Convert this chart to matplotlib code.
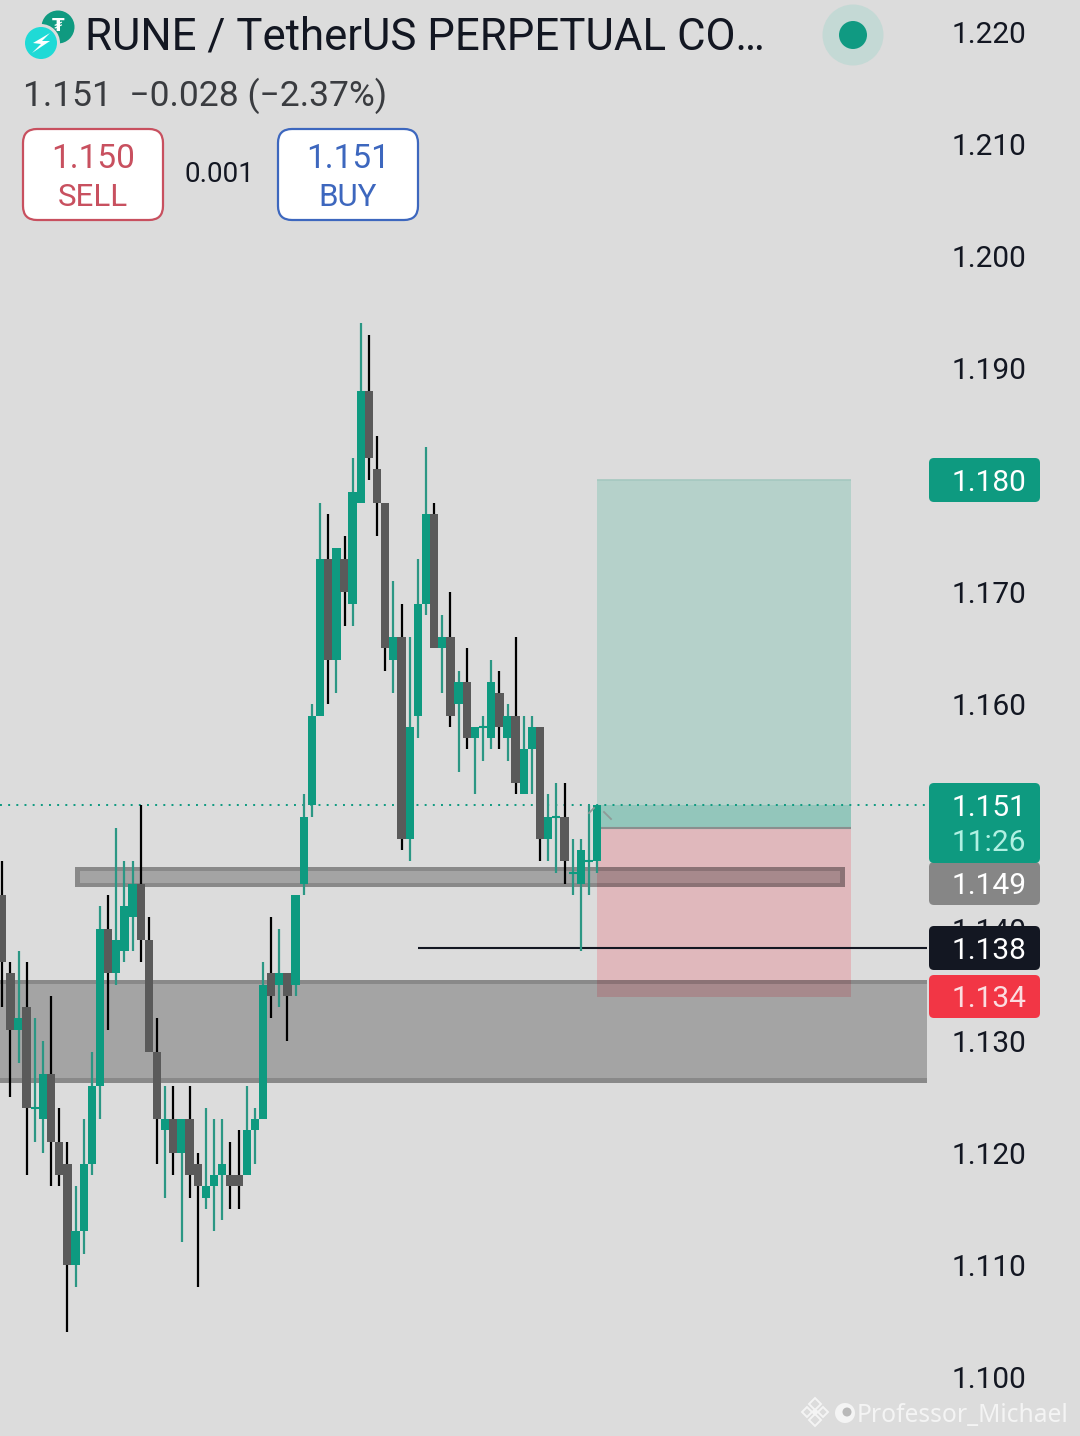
import matplotlib
matplotlib.use("Agg")
import matplotlib.pyplot as plt
from matplotlib.patches import Rectangle, FancyBboxPatch, Circle, Polygon

# ---------- data ----------
tops = [1.143,1.136,1.132,1.133,1.124,1.127,1.127,1.121,1.119,1.113,1.119,1.126,1.140,1.140,1.139,1.142,1.144,1.144,1.139,1.129,
        1.123,1.123,1.123,1.123,1.119,1.117,1.118,1.119,1.118,1.118,1.122,1.123,1.135,1.136,1.136,1.136,1.143,1.150,1.159,1.173,
        1.173,1.174,1.173,1.179,1.188,1.188,1.181,1.178,1.166,1.166,1.158,1.169,1.177,1.177,1.166,1.166,1.162,1.162,1.158,1.158,
        1.162,1.161,1.159,1.159,1.156,1.158,1.158,1.150,1.150,1.150,1.145,1.147,1.146,1.151]
bottoms = [1.137,1.131,1.131,1.124,1.124,1.123,1.121,1.118,1.110,1.110,1.113,1.119,1.126,1.136,1.136,1.138,1.141,1.139,1.129,1.123,
           1.122,1.120,1.120,1.118,1.117,1.116,1.117,1.118,1.117,1.117,1.118,1.122,1.123,1.134,1.135,1.134,1.135,1.144,1.151,1.159,
           1.164,1.164,1.170,1.169,1.178,1.182,1.178,1.165,1.164,1.148,1.148,1.159,1.169,1.165,1.165,1.159,1.160,1.157,1.157,1.158,
           1.157,1.158,1.157,1.153,1.152,1.156,1.148,1.148,1.150,1.146,1.145,1.144,1.146,1.146]
highs = [1.146,1.137,1.138,1.137,1.132,1.130,1.134,1.124,1.121,1.117,1.123,1.129,1.142,1.143,1.149,1.146,1.146,1.151,1.141,1.132,
         1.126,1.126,1.123,1.126,1.120,1.124,1.123,1.123,1.121,1.122,1.126,1.124,1.137,1.141,1.140,1.136,1.143,1.152,1.160,1.178,
         1.177,1.174,1.175,1.182,1.194,1.193,1.184,1.178,1.171,1.169,1.166,1.173,1.183,1.178,1.168,1.170,1.163,1.165,1.158,1.159,
         1.164,1.163,1.160,1.166,1.159,1.159,1.158,1.152,1.153,1.153,1.148,1.148,1.151,1.151]
lows = [1.133,1.125,1.128,1.118,1.121,1.120,1.117,1.117,1.104,1.108,1.111,1.118,1.123,1.131,1.135,1.137,1.138,1.137,1.129,1.119,
        1.116,1.118,1.112,1.116,1.108,1.115,1.113,1.114,1.115,1.115,1.118,1.119,1.123,1.132,1.133,1.130,1.134,1.143,1.150,1.159,
        1.160,1.161,1.167,1.167,1.178,1.180,1.175,1.163,1.161,1.147,1.146,1.157,1.168,1.165,1.161,1.158,1.154,1.156,1.152,1.155,
        1.156,1.156,1.155,1.152,1.152,1.152,1.146,1.146,1.145,1.144,1.143,1.138,1.143,1.145]
is_up = [0,0,1,0,1,1,0,0,0,1,1,1,1,0,1,1,1,0,0,0,
         1,0,1,0,0,1,1,1,0,0,1,1,1,0,1,0,1,1,1,1,
         0,1,0,1,1,0,0,0,1,0,1,1,1,0,1,0,1,0,1,1,
         1,0,1,0,1,1,0,1,1,0,1,1,1,1]

price_ticks = [1.100,1.110,1.120,1.130,1.140,1.150,1.160,1.170,1.180,1.190,1.200,1.210,1.220]
last_price = 1.1510
crosshair_price = 1.1383
target_price = 1.180
entry_price = 1.149
stop_price = 1.1339
upper_zone = (1.1455, 1.14514, 1.14407, 1.14372)
lower_zone = (1.13546, 1.13509, 1.12672, 1.12624)
title = "RUNE / TetherUS PERPETUAL CO…"
quote = "1.151  −0.028 (−2.37%)"

# ---------- style ----------
BG = "#DCDCDC"
GREEN = "#0E9A80"
GREEN_WICK = "#2B9784"
DARK = "#5A5A5A"
plt.rcParams["font.family"] = ["Roboto", "DejaVu Sans"]

W, H = 1080, 1436
fig = plt.figure(figsize=(W / 100, H / 100), dpi=100, facecolor=BG)
PX_X = 8.15
PX_Y = 11208.0
ax = fig.add_axes([0, 0, 927 / W, 1])
ax.set_facecolor(BG)
ax.set_xlim(-2.2 / PX_X, 924.8 / PX_X)
ax.set_ylim(1.100 - 59 / PX_Y, 1.220 + 32 / PX_Y)
for s in ax.spines.values():
    s.set_visible(False)
ax.set_xticks([])
ax.yaxis.tick_right()
ax.set_yticks(price_ticks)
ax.set_yticklabels([f"{p:.3f}" for p in price_ticks], fontsize=21.5, color="#131722")
ax.tick_params(axis="y", length=0, pad=17.4)

def box(x0, x1, y0, y1, color, alpha=1.0, z=1):
    ax.add_patch(Rectangle((x0, y0), x1 - x0, y1 - y0, facecolor=color, alpha=alpha,
                           edgecolor="none", linewidth=0, zorder=z))

# risk / reward tool
tx0, tx1 = 73.0, 104.15
box(tx0, tx1, entry_price, target_price, "#B5D1CA", z=1)
box(tx0, tx1, stop_price, entry_price, "#E0B8BC", z=1)
box(tx0, tx1, entry_price, last_price, "#0E9A80", alpha=0.2, z=1.1)
ax.hlines(entry_price, tx0, tx1, color="#8A8F8E", lw=1.5, zorder=1.2)
ax.hlines(target_price, tx0, tx1, color="#A5C8C0", lw=1.2, zorder=1.2)

# zones
xl = ax.get_xlim()
ux0, ux1, uxi = 8.93, 103.4, 0.6
o_t, i_t, i_b, o_b = upper_zone
box(ux0 + uxi, ux1 - uxi, i_b, i_t, "black", 0.25, z=2)
box(ux0, ux1, i_t, o_t, "black", 0.375, z=2)
box(ux0, ux1, o_b, i_b, "black", 0.375, z=2)
box(ux0, ux0 + uxi, i_b, i_t, "black", 0.375, z=2)
box(ux1 - uxi, ux1, i_b, i_t, "black", 0.375, z=2)
o_t, i_t, i_b, o_b = lower_zone
box(xl[0], xl[1], i_b, i_t, "black", 0.25, z=2)
box(xl[0], xl[1], i_t, o_t, "black", 0.375, z=2)
box(xl[0], xl[1], o_b, i_b, "black", 0.375, z=2)

# lines
ax.hlines(last_price, xl[0], xl[1], color=GREEN, lw=1.4, linestyles=(0, (1.0, 3.2)), zorder=2.5)
ax.hlines(crosshair_price, 51.0, xl[1], color="#131722", lw=1.5, zorder=2.6)

# candles
for i, (t, b, h, l, up) in enumerate(zip(tops, bottoms, highs, lows, is_up)):
    z = 3 + i * 0.001
    ax.vlines(i, l, h, color=GREEN_WICK if up else "black", lw=1.6, zorder=z)
    if t == b:
        ax.hlines(t, i - 0.5, i + 0.5, color=GREEN if up else DARK, lw=1.5, zorder=z)
    else:
        ax.bar(i, t - b, bottom=b, width=1.02, color=GREEN if up else DARK, linewidth=0, zorder=z)

# ---------- overlay in pixels ----------
ov = fig.add_axes([0, 0, 1, 1], zorder=10)
ov.set_xlim(0, W)
ov.set_ylim(H, 0)
ov.axis("off")
ov.patch.set_alpha(0)

ov.plot([589, 594], [813, 808], color="#8E9A98", lw=1.3, zorder=3)
ov.plot([604, 611], [812, 819], color="#8E9A98", lw=1.3, zorder=3)

def tag(y0, y1, color):
    ov.add_patch(FancyBboxPatch((932, y0 + 3), 105, y1 - y0 - 6, boxstyle="round,pad=3,rounding_size=5",
                                facecolor=color, edgecolor="none", zorder=4))

def label(y, s, color="white", size=21.5):
    ov.text(951.5, y, s, color=color, fontsize=size, va="center_baseline", ha="left", zorder=5)

tag(458, 502, GREEN); label(480, "1.180")
tag(862, 905, "#868686"); label(883, "1.149")
tag(783, 863, GREEN); label(805, "1.151"); label(840, "11:26", "#B0F0E2")
tag(926, 970, "#131722"); label(948, "1.138")
tag(975, 1018, "#F23645"); label(996, "1.134", "#FBDDE0")

# header
ov.text(85, 49, title, fontsize=31.5, color="#131722", va="baseline", ha="left")
ov.text(23, 106, quote, fontsize=25.5, color="#3A3C40", va="baseline", ha="left")

def button(x0, x1, color, price, word):
    ov.add_patch(FancyBboxPatch((x0 + 13, 142), x1 - x0 - 26, 65, boxstyle="round,pad=13,rounding_size=14",
                                facecolor="white", edgecolor=color, lw=1.6))
    c = (x0 + x1) / 2
    ov.text(c, 155, price, color=color, fontsize=24, ha="center", va="center_baseline")
    ov.text(c, 195, word, color=color, fontsize=22.5, ha="center", va="center_baseline")

button(23, 163, "#C8505F", "1.150", "SELL")
button(278, 418, "#3D67BE", "1.151", "BUY")
ov.text(219.5, 172, "0.001", color="#131722", fontsize=20, ha="center", va="center_baseline")

# logos
ov.add_patch(Circle((58, 27), 16.5, facecolor="#0F9A80", edgecolor="none", zorder=2))
ov.text(58, 26, "₮", color="white", fontsize=13, ha="center", va="center", zorder=3, fontweight="bold", family="DejaVu Sans")
ov.add_patch(Circle((41, 43), 19, facecolor=BG, edgecolor="none", zorder=3))
ov.add_patch(Circle((41, 43), 16, facecolor="#1FDAD6", edgecolor="none", zorder=4))
ov.add_patch(Polygon([[50, 33], [33, 43], [41, 44], [32, 53], [50, 41], [42, 41]], facecolor="white", edgecolor="none", zorder=5))

# status dot
ov.add_patch(Circle((853, 35), 30.5, facecolor="#C4D9D5", edgecolor="none"))
ov.add_patch(Circle((853, 35), 14, facecolor="#109A82", edgecolor="none"))

# watermark
WM = "#F4F4F4"
for cx, cy, r in [(815, 1404, 6), (807, 1412, 5), (823, 1412, 5), (815, 1420, 6)]:
    ov.add_patch(Polygon([[cx - r, cy], [cx, cy - r], [cx + r, cy], [cx, cy + r]], facecolor="none", edgecolor=WM, lw=1.4))
ov.add_patch(Polygon([[815, 1408], [819, 1412], [815, 1416], [811, 1412]], facecolor=WM, edgecolor="none"))
ov.add_patch(Circle((845, 1413), 10, facecolor=WM, edgecolor="none"))
ov.add_patch(Circle((847, 1412), 4.5, facecolor="#B9B9B9", edgecolor="none"))
ov.text(857, 1412, "Professor_Michael", color=WM, fontsize=17.7, ha="left", va="center_baseline",
        family=["Noto Sans", "DejaVu Sans"])

fig.savefig("out.png", dpi=100, facecolor=BG)
